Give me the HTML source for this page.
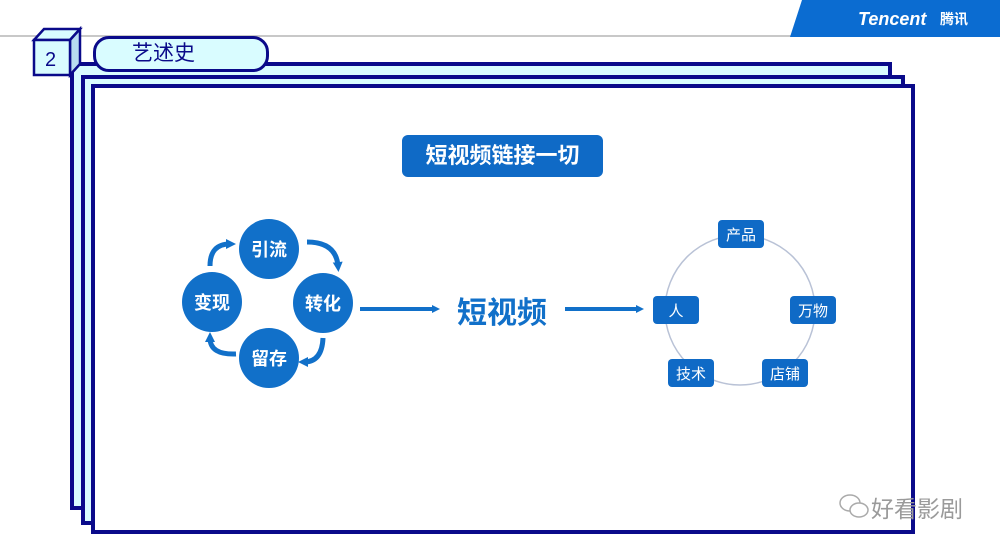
<!DOCTYPE html>
<html><head><meta charset="utf-8"><style>
body{margin:0;width:1000px;height:549px;background:#fff;position:relative;overflow:hidden;font-family:"Liberation Sans","Noto Sans CJK SC",sans-serif}
.a{position:absolute;box-sizing:border-box}
.fr{border:4px solid #0a0a8a;}
.c{position:absolute;width:60px;height:60px;border-radius:50%;background:#1170c9;color:#fff;font-size:18px;font-weight:bold;display:flex;align-items:center;justify-content:center}
.t{position:absolute;background:#0f6ac6;color:#fff;font-size:15px;border-radius:4px;display:flex;align-items:center;justify-content:center;height:28px}
</style></head><body>
<div class="a" style="left:0;top:35px;width:800px;height:2px;background:#c8c8c8"></div>
<svg class="a" style="left:780px;top:0" width="220" height="37"><polygon points="22,0 220,0 220,37 10,37" fill="#0b6cd1"/><text x="78" y="25" fill="#fff" font-family="Liberation Sans" font-size="18" font-style="italic" font-weight="bold">Tencent</text><text x="160" y="24" fill="#fff" font-family="Noto Sans CJK SC" font-size="14" font-weight="bold">腾讯</text></svg>
<div class="a fr" style="left:70px;top:62px;width:822px;height:448px;background:#d9fcff"></div>
<div class="a fr" style="left:81px;top:75px;width:824px;height:450px;background:#d9fcff"></div>
<div class="a fr" style="left:91px;top:84px;width:824px;height:450px;background:#fff"></div>
<svg class="a" style="left:28px;top:26px" width="60" height="52"><polygon points="6,14 16,3 52,3 42,14" fill="#d9fcff" stroke="#0a0a8a" stroke-width="2.5"/><polygon points="42,14 52,3 52,38 42,49" fill="#b8dcf0" stroke="#0a0a8a" stroke-width="2.5"/><rect x="6" y="14" width="36" height="35" fill="#d9fcff" stroke="#0a0a8a" stroke-width="2.5"/><text x="17" y="40" font-size="20" fill="#0a0a8a" font-family="Liberation Sans">2</text></svg>
<div class="a" style="left:93px;top:36px;width:176px;height:36px;border:3px solid #0a0a8a;border-radius:16px;background:#d9fcff;font-size:21px;color:#0a0a8a;padding-left:36px;line-height:30px">艺述史</div>
<div class="a" style="left:402px;top:135px;width:201px;height:42px;background:#0f6ac6;border-radius:6px;color:#fff;font-size:22px;font-weight:bold;text-align:center;line-height:42px">短视频链接一切</div>
<svg class="a" style="left:0;top:0" width="1000" height="549">
<defs><marker id="m" markerUnits="userSpaceOnUse" markerWidth="12" markerHeight="12" refX="4" refY="6" orient="auto"><path d="M0,1L10,6L0,11z" fill="#1170c9"/></marker>
<marker id="n" markerUnits="userSpaceOnUse" markerWidth="10" markerHeight="10" refX="4" refY="5" orient="auto"><path d="M0,1L8,5L0,9z" fill="#1170c9"/></marker></defs>
<g stroke="#1170c9" stroke-width="5" fill="none" marker-end="url(#m)">
<path d="M307,242 Q336,242 338,266"/>
<path d="M323,338 Q322,362 304,362"/>
<path d="M236,354 Q210,355 210,338"/>
<path d="M210,266 Q210,244 230,244"/>
</g>
<g stroke="#1170c9" stroke-width="4" marker-end="url(#n)"><line x1="360" y1="309" x2="436" y2="309"/><line x1="565" y1="309" x2="640" y2="309"/></g>
<circle cx="740" cy="310" r="75" fill="none" stroke="#b9c2d6" stroke-width="1.5"/>
</svg>
<div class="c" style="left:239px;top:219px">引流</div>
<div class="c" style="left:293px;top:273px">转化</div>
<div class="c" style="left:239px;top:328px">留存</div>
<div class="c" style="left:182px;top:272px">变现</div>
<div class="a" style="left:457px;top:288px;font-size:30px;font-weight:bold;color:#1170c9">短视频</div>
<div class="t" style="left:718px;top:220px;width:46px">产品</div>
<div class="t" style="left:653px;top:296px;width:46px">人</div>
<div class="t" style="left:790px;top:296px;width:46px">万物</div>
<div class="t" style="left:668px;top:359px;width:46px">技术</div>
<div class="t" style="left:762px;top:359px;width:46px">店铺</div>
<svg class="a" style="left:838px;top:492px" width="32" height="30"><ellipse cx="12" cy="11" rx="10" ry="8" fill="none" stroke="#aaa" stroke-width="1.5"/><ellipse cx="21" cy="18" rx="9" ry="7" fill="#fff" stroke="#aaa" stroke-width="1.5"/></svg>
<div class="a" style="left:871px;top:490px;font-size:23px;color:#9a9a9a">好看影剧</div>
</body></html>
